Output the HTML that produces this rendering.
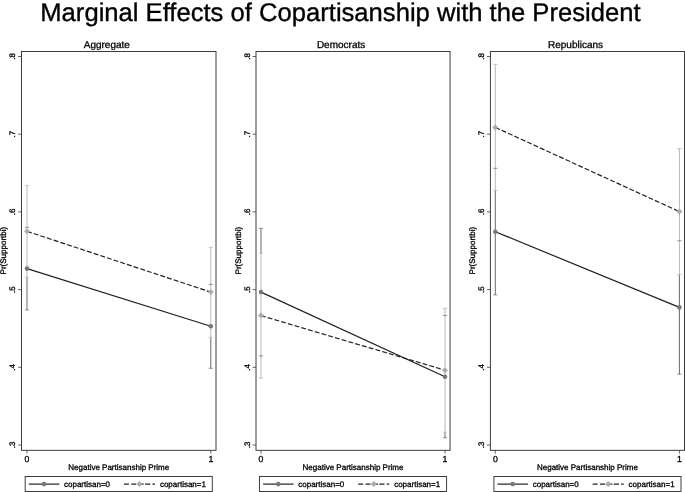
<!DOCTYPE html>
<html lang="en"><head><meta charset="utf-8"><title>Marginal Effects of Copartisanship with the President</title>
<style>html,body{margin:0;padding:0;background:#fff}svg{display:block}text{font-family:"Liberation Sans",sans-serif;fill:#000;stroke:#000;stroke-width:.3px;text-rendering:geometricPrecision}</style>
</head><body>
<svg width="685" height="492" viewBox="0 0 685 492">
<rect width="685" height="492" fill="#fff"/>
<text x="340.4" y="20.7" font-size="25.62" text-anchor="middle" style="stroke-width:.35px">Marginal Effects of Copartisanship with the President</text>
<g>
<text x="106.80" y="47.6" font-size="10" text-anchor="middle">Aggregate</text>
<path d="M27.0 277.4V310.0" stroke="#6a6a6a" stroke-width="1" fill="none"/>
<path d="M27.0 185.4V277.4" stroke="#b8b8b8" stroke-width="1" fill="none"/>
<path d="M24.90 185.4H29.10M24.90 277.4H29.10" stroke="#b8b8b8" stroke-width="0.8" fill="none"/>
<path d="M24.90 227.3H29.10M24.90 310.0H29.10" stroke="#6a6a6a" stroke-width="0.7" fill="none"/>
<path d="M210.8 337.4V368.3" stroke="#6a6a6a" stroke-width="1" fill="none"/>
<path d="M210.8 247.3V337.4" stroke="#b8b8b8" stroke-width="1" fill="none"/>
<path d="M208.70 247.3H212.90M208.70 337.4H212.90" stroke="#b8b8b8" stroke-width="0.8" fill="none"/>
<path d="M208.70 284.4H212.90M208.70 368.3H212.90" stroke="#6a6a6a" stroke-width="0.7" fill="none"/>
<path d="M27.0 268.6L210.8 326.3" stroke="#202020" stroke-width="1.2" fill="none"/>
<path d="M27.0 231.3L210.8 292.1" stroke="#202020" stroke-width="1.2" stroke-dasharray="4.9 2.12" fill="none"/>
<circle cx="27.0" cy="268.6" r="2.3" fill="#787878"/>
<circle cx="210.8" cy="326.3" r="2.3" fill="#787878"/>
<path d="M24.00 231.3L27.0 228.30L30.00 231.3L27.0 234.30Z" fill="#ababab"/>
<path d="M207.80 292.1L210.8 289.10L213.80 292.1L210.8 295.10Z" fill="#ababab"/>
<rect x="21.5" y="51.5" width="194.50" height="398.85" fill="none" stroke="#3c3c3c" stroke-width="1"/>
<path d="M18.10 445.00H21.5" stroke="#3c3c3c" stroke-width="0.8"/>
<text transform="translate(15.10 445.00) rotate(-90)" font-size="8" text-anchor="middle">.3</text>
<path d="M18.10 367.30H21.5" stroke="#3c3c3c" stroke-width="0.8"/>
<text transform="translate(15.10 367.30) rotate(-90)" font-size="8" text-anchor="middle">.4</text>
<path d="M18.10 289.60H21.5" stroke="#3c3c3c" stroke-width="0.8"/>
<text transform="translate(15.10 289.60) rotate(-90)" font-size="8" text-anchor="middle">.5</text>
<path d="M18.10 211.90H21.5" stroke="#3c3c3c" stroke-width="0.8"/>
<text transform="translate(15.10 211.90) rotate(-90)" font-size="8" text-anchor="middle">.6</text>
<path d="M18.10 134.20H21.5" stroke="#3c3c3c" stroke-width="0.8"/>
<text transform="translate(15.10 134.20) rotate(-90)" font-size="8" text-anchor="middle">.7</text>
<path d="M18.10 56.50H21.5" stroke="#3c3c3c" stroke-width="0.8"/>
<text transform="translate(15.10 56.50) rotate(-90)" font-size="8" text-anchor="middle">.8</text>
<text transform="translate(6.10 250.6) rotate(-90)" font-size="8" text-anchor="middle">Pr(Supportbi)</text>
<path d="M27.0 450.35V453.65" stroke="#3c3c3c" stroke-width="0.8"/>
<text x="27.0" y="461.7" font-size="8.7" text-anchor="middle">0</text>
<path d="M210.8 450.35V453.65" stroke="#3c3c3c" stroke-width="0.8"/>
<text x="210.8" y="461.7" font-size="8.7" text-anchor="middle">1</text>
<text x="118.75" y="470.4" font-size="8" text-anchor="middle">Negative Partisanship Prime</text>
<rect x="25.20" y="476.5" width="187.1" height="15" fill="#fff" stroke="#3c3c3c" stroke-width="1"/>
<path d="M28.80 484.12H59.30" stroke="#202020" stroke-width="1.2"/>
<circle cx="44.05" cy="484.1" r="2.3" fill="#787878"/>
<text x="64.00" y="486.7" font-size="8">copartisan=0</text>
<path d="M124.00 484.12H155.00" stroke="#202020" stroke-width="1.2" stroke-dasharray="4.9 2.45 4.9 2.45 4.9 1.45 5.2 2.2 2.6"/>
<path d="M136.50 484.1L139.50 481.1L142.50 484.1L139.50 487.1Z" fill="#ababab"/>
<text x="159.90" y="486.7" font-size="8">copartisan=1</text>
</g>
<g>
<text x="341.07" y="47.6" font-size="10" text-anchor="middle">Democrats</text>
<path d="M261.0 228.3V253.3" stroke="#6a6a6a" stroke-width="1" fill="none"/>
<path d="M261.0 253.3V378.1" stroke="#b8b8b8" stroke-width="1" fill="none"/>
<path d="M258.90 253.3H263.10M258.90 378.1H263.10" stroke="#b8b8b8" stroke-width="0.8" fill="none"/>
<path d="M258.90 228.3H263.10M258.90 355.9H263.10" stroke="#6a6a6a" stroke-width="0.7" fill="none"/>
<path d="M445.0 432.2V437.7" stroke="#6a6a6a" stroke-width="1" fill="none"/>
<path d="M445.0 308.3V432.2" stroke="#b8b8b8" stroke-width="1" fill="none"/>
<path d="M442.90 308.3H447.10M442.90 432.2H447.10" stroke="#b8b8b8" stroke-width="0.8" fill="none"/>
<path d="M442.90 315.4H447.10M442.90 437.7H447.10" stroke="#6a6a6a" stroke-width="0.7" fill="none"/>
<path d="M261.0 292.1L445.0 376.7" stroke="#202020" stroke-width="1.2" fill="none"/>
<path d="M261.0 315.6L445.0 370.2" stroke="#202020" stroke-width="1.2" stroke-dasharray="4.9 2.12" fill="none"/>
<circle cx="261.0" cy="292.1" r="2.3" fill="#787878"/>
<circle cx="445.0" cy="376.7" r="2.3" fill="#787878"/>
<path d="M258.00 315.6L261.0 312.60L264.00 315.6L261.0 318.60Z" fill="#ababab"/>
<path d="M442.00 370.2L445.0 367.20L448.00 370.2L445.0 373.20Z" fill="#ababab"/>
<rect x="256.0" y="51.5" width="194.05" height="398.85" fill="none" stroke="#3c3c3c" stroke-width="1"/>
<path d="M252.60 445.00H256.0" stroke="#3c3c3c" stroke-width="0.8"/>
<text transform="translate(249.60 445.00) rotate(-90)" font-size="8" text-anchor="middle">.3</text>
<path d="M252.60 367.30H256.0" stroke="#3c3c3c" stroke-width="0.8"/>
<text transform="translate(249.60 367.30) rotate(-90)" font-size="8" text-anchor="middle">.4</text>
<path d="M252.60 289.60H256.0" stroke="#3c3c3c" stroke-width="0.8"/>
<text transform="translate(249.60 289.60) rotate(-90)" font-size="8" text-anchor="middle">.5</text>
<path d="M252.60 211.90H256.0" stroke="#3c3c3c" stroke-width="0.8"/>
<text transform="translate(249.60 211.90) rotate(-90)" font-size="8" text-anchor="middle">.6</text>
<path d="M252.60 134.20H256.0" stroke="#3c3c3c" stroke-width="0.8"/>
<text transform="translate(249.60 134.20) rotate(-90)" font-size="8" text-anchor="middle">.7</text>
<path d="M252.60 56.50H256.0" stroke="#3c3c3c" stroke-width="0.8"/>
<text transform="translate(249.60 56.50) rotate(-90)" font-size="8" text-anchor="middle">.8</text>
<text transform="translate(240.60 250.6) rotate(-90)" font-size="8" text-anchor="middle">Pr(Supportbi)</text>
<path d="M261.0 450.35V453.65" stroke="#3c3c3c" stroke-width="0.8"/>
<text x="261.0" y="461.7" font-size="8.7" text-anchor="middle">0</text>
<path d="M445.0 450.35V453.65" stroke="#3c3c3c" stroke-width="0.8"/>
<text x="445.0" y="461.7" font-size="8.7" text-anchor="middle">1</text>
<text x="353.02" y="470.4" font-size="8" text-anchor="middle">Negative Partisanship Prime</text>
<rect x="259.47" y="476.5" width="187.1" height="15" fill="#fff" stroke="#3c3c3c" stroke-width="1"/>
<path d="M263.07 484.12H293.57" stroke="#202020" stroke-width="1.2"/>
<circle cx="278.32" cy="484.1" r="2.3" fill="#787878"/>
<text x="298.27" y="486.7" font-size="8">copartisan=0</text>
<path d="M358.27 484.12H389.27" stroke="#202020" stroke-width="1.2" stroke-dasharray="4.9 2.45 4.9 2.45 4.9 1.45 5.2 2.2 2.6"/>
<path d="M370.77 484.1L373.77 481.1L376.77 484.1L373.77 487.1Z" fill="#ababab"/>
<text x="394.17" y="486.7" font-size="8">copartisan=1</text>
</g>
<g>
<text x="575.50" y="47.6" font-size="10" text-anchor="middle">Republicans</text>
<path d="M495.3 190.4V294.9" stroke="#6a6a6a" stroke-width="1" fill="none"/>
<path d="M495.3 64.4V190.4" stroke="#b8b8b8" stroke-width="1" fill="none"/>
<path d="M493.20 64.4H497.40M493.20 190.4H497.40" stroke="#b8b8b8" stroke-width="0.8" fill="none"/>
<path d="M493.20 168.3H497.40M493.20 294.9H497.40" stroke="#6a6a6a" stroke-width="0.7" fill="none"/>
<path d="M679.4 274.6V374.2" stroke="#6a6a6a" stroke-width="1" fill="none"/>
<path d="M679.4 148.6V274.6" stroke="#b8b8b8" stroke-width="1" fill="none"/>
<path d="M677.30 148.6H681.50M677.30 274.6H681.50" stroke="#b8b8b8" stroke-width="0.8" fill="none"/>
<path d="M677.30 240.8H681.50M677.30 374.2H681.50" stroke="#6a6a6a" stroke-width="0.7" fill="none"/>
<path d="M495.3 231.7L679.4 307.4" stroke="#202020" stroke-width="1.2" fill="none"/>
<path d="M495.3 127.4L679.4 211.6" stroke="#202020" stroke-width="1.2" stroke-dasharray="4.9 2.12" fill="none"/>
<circle cx="495.3" cy="231.7" r="2.3" fill="#787878"/>
<circle cx="679.4" cy="307.4" r="2.3" fill="#787878"/>
<path d="M492.30 127.4L495.3 124.40L498.30 127.4L495.3 130.40Z" fill="#ababab"/>
<path d="M676.40 211.6L679.4 208.60L682.40 211.6L679.4 214.60Z" fill="#ababab"/>
<rect x="490.4" y="51.5" width="194.10" height="398.85" fill="none" stroke="#3c3c3c" stroke-width="1"/>
<path d="M487.00 445.00H490.4" stroke="#3c3c3c" stroke-width="0.8"/>
<text transform="translate(484.00 445.00) rotate(-90)" font-size="8" text-anchor="middle">.3</text>
<path d="M487.00 367.30H490.4" stroke="#3c3c3c" stroke-width="0.8"/>
<text transform="translate(484.00 367.30) rotate(-90)" font-size="8" text-anchor="middle">.4</text>
<path d="M487.00 289.60H490.4" stroke="#3c3c3c" stroke-width="0.8"/>
<text transform="translate(484.00 289.60) rotate(-90)" font-size="8" text-anchor="middle">.5</text>
<path d="M487.00 211.90H490.4" stroke="#3c3c3c" stroke-width="0.8"/>
<text transform="translate(484.00 211.90) rotate(-90)" font-size="8" text-anchor="middle">.6</text>
<path d="M487.00 134.20H490.4" stroke="#3c3c3c" stroke-width="0.8"/>
<text transform="translate(484.00 134.20) rotate(-90)" font-size="8" text-anchor="middle">.7</text>
<path d="M487.00 56.50H490.4" stroke="#3c3c3c" stroke-width="0.8"/>
<text transform="translate(484.00 56.50) rotate(-90)" font-size="8" text-anchor="middle">.8</text>
<text transform="translate(475.00 250.6) rotate(-90)" font-size="8" text-anchor="middle">Pr(Supportbi)</text>
<path d="M495.3 450.35V453.65" stroke="#3c3c3c" stroke-width="0.8"/>
<text x="495.3" y="461.7" font-size="8.7" text-anchor="middle">0</text>
<path d="M679.4 450.35V453.65" stroke="#3c3c3c" stroke-width="0.8"/>
<text x="679.4" y="461.7" font-size="8.7" text-anchor="middle">1</text>
<text x="587.45" y="470.4" font-size="8" text-anchor="middle">Negative Partisanship Prime</text>
<rect x="493.90" y="476.5" width="187.1" height="15" fill="#fff" stroke="#3c3c3c" stroke-width="1"/>
<path d="M497.50 484.12H528.00" stroke="#202020" stroke-width="1.2"/>
<circle cx="512.75" cy="484.1" r="2.3" fill="#787878"/>
<text x="532.70" y="486.7" font-size="8">copartisan=0</text>
<path d="M592.70 484.12H623.70" stroke="#202020" stroke-width="1.2" stroke-dasharray="4.9 2.45 4.9 2.45 4.9 1.45 5.2 2.2 2.6"/>
<path d="M605.20 484.1L608.20 481.1L611.20 484.1L608.20 487.1Z" fill="#ababab"/>
<text x="628.60" y="486.7" font-size="8">copartisan=1</text>
</g>
</svg>
</body></html>
